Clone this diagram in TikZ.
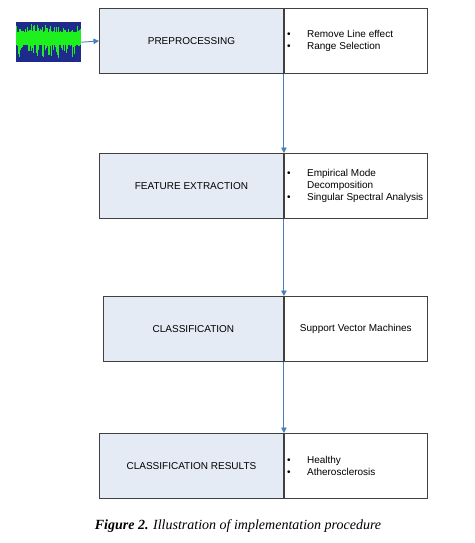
\documentclass[tikz,border=0pt]{standalone}
\usepackage{fontspec}
\setmainfont{Liberation Sans}
\newfontfamily\capfont{Liberation Serif}
\usetikzlibrary{arrows.meta}
\definecolor{boxfill}{HTML}{E5EBF5}
\definecolor{boxline}{HTML}{404040}
\definecolor{arrowblue}{HTML}{4A7EBB}
\definecolor{sigbg}{HTML}{1E2A8C}
\definecolor{siggreen}{HTML}{1EF01E}
\tikzset{
  leftbox/.style={draw=boxline, line width=0.9pt, fill=boxfill, minimum height=65pt, inner sep=0pt, font=\fontsize{10}{12.3}\selectfont, anchor=north west},
  rightbox/.style={draw=boxline, line width=0.9pt, fill=white, minimum width=143pt, minimum height=65pt, inner sep=0pt, anchor=north west},
  itemtext/.style={anchor=west, inner sep=0pt, font=\fontsize{10}{12.3}\selectfont, align=left},
  flow/.style={draw=arrowblue, line width=0.9pt, -{Triangle[length=5.5pt,width=5.5pt]}}
}
\newcommand{\bul}{\makebox[20pt][l]{\textbullet}}
\begin{document}
\begin{tikzpicture}[x=1pt,y=-1pt]
\useasboundingbox (0,0) rectangle (474,543);
% signal icon
\node[fill=sigbg, minimum width=65pt, minimum height=40pt, inner sep=0pt, anchor=north west] (sig) at (16,22) {};
\begin{scope}
\clip (16,22) rectangle (81,62);
\pgfmathsetseed{7}
\foreach \i in {0,...,64}{
  \pgfmathsetmacro{\ta}{rnd}
  \pgfmathsetmacro{\tb}{rnd}
  \pgfmathsetmacro{\top}{32-8*\ta*\ta}
  \pgfmathsetmacro{\bot}{45+13*\tb*\tb*\tb}
  \draw[siggreen, line width=1.05pt] (16.5+\i,\top) -- (16.5+\i,\bot);
}
\end{scope}
% boxes
\node[leftbox, minimum width=184pt] (l1) at (99,8) {PREPROCESSING};
\node[rightbox] (r1) at (l1.north east) {};
\node[leftbox, minimum width=184pt] (l2) at (99,153) {FEATURE EXTRACTION};
\node[rightbox] (r2) at (l2.north east) {};
\node[leftbox, minimum width=180pt] (l3) at (103,296) {CLASSIFICATION};
\node[rightbox, font=\fontsize{10}{12.3}\selectfont] (r3) at (l3.north east) {Support Vector Machines};
\node[leftbox, minimum width=184pt] (l4) at (99,433) {CLASSIFICATION RESULTS};
\node[rightbox] (r4) at (l4.north east) {};
% right texts
\node[itemtext] (t1) at ([xshift=3pt]r1.west) {\bul Remove Line effect\\\bul Range Selection};
\node[itemtext] (t2) at ([xshift=3pt]r2.west) {\bul Empirical Mode\\\hspace*{20pt}Decomposition\\\bul Singular Spectral Analysis};
\node[itemtext] (t4) at ([xshift=3pt]r4.west) {\bul Healthy\\\bul Atherosclerosis};
% connectors
\draw[flow] (sig.east) -- (l1.west);
\draw[flow] (l1.south east) -- (l2.north east);
\draw[flow] (l2.south east) -- (l3.north east);
\draw[flow] (l3.south east) -- (l4.north east);
% caption
\node[font=\capfont\fontsize{14}{16}\selectfont, inner sep=0pt] (cap) at (238,526) {\textbf{\textit{Figure 2.}} \textit{Illustration of implementation procedure}};
\end{tikzpicture}
\end{document}
